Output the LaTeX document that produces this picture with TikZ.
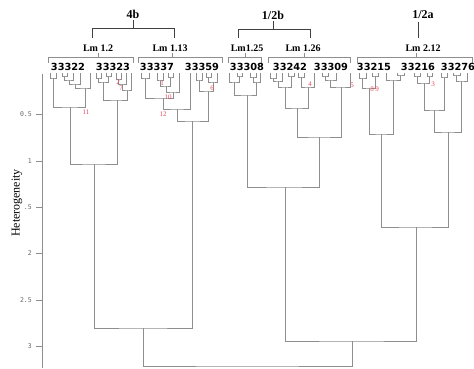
\documentclass[tikz,border=0pt]{standalone}
\usepackage{fontspec}
\setmainfont{Liberation Serif}
\newfontfamily\leaffont{DejaVu Sans}
\newfontfamily\tickfont{DejaVu Sans Mono}
\definecolor{linegray}{HTML}{8E8E8E}
\definecolor{redlab}{HTML}{E0485A}
\definecolor{tickgray}{HTML}{666666}
\newcommand\jn[5]{\coordinate (#1) at (#2,#3); \draw[br] (#4) |- (#1) -| (#5);}
\begin{document}
\begin{tikzpicture}[x=1pt,y=-1pt,
  br/.style={draw=linegray,line width=0.9pt},
  bk/.style={draw=black!75,line width=0.9pt},
  leaflab/.style={inner sep=0pt,font=\leaffont\bfseries\fontsize{9.8}{10}\selectfont},
  lmlab/.style={inner sep=0pt,font=\bfseries\fontsize{10}{11}\selectfont},
  grplab/.style={inner sep=0pt,font=\bfseries\fontsize{12}{13}\selectfont},
  rlab/.style={inner sep=0pt,text=redlab,font=\fontsize{7}{8}\selectfont},
  ticklab/.style={inner sep=0pt,anchor=east,text=tickgray,font=\tickfont\fontsize{6.5}{7}\selectfont}]
\useasboundingbox (0,0) rectangle (474,369);
% group labels
\node[grplab] (g4b) at (133,14) {4b};
\node[grplab] (g12b) at (273,15) {1/2b};
\node[grplab] (g12a) at (423,15) {1/2a};
\draw[bk] (133,20) -- (133,28);
\draw[bk] (92,38) -- (92,28) -- (174,28) -- (174,38);
\draw[bk] (273,21) -- (273,29);
\draw[bk] (238,38) -- (238,29) -- (310,29) -- (310,38);
\draw[bk] (418,22) -- (418,38);
% Lm labels
\node[lmlab] (lm12) at (98,48) {Lm 1.2};
\node[lmlab] (lm113) at (170,48) {Lm 1.13};
\node[lmlab] (lm125) at (247,48) {Lm1.25};
\node[lmlab] (lm126) at (303,48) {Lm 1.26};
\node[lmlab] (lm212) at (423,48) {Lm 2.12};
\foreach \a/\b/\c in {48/133/98, 138/222/172, 228/261/245, 268/350/304, 357/472/416}{
  \draw[br] (\a,63) -- (\a,57) -- (\b,57) -- (\b,63);
  \draw[br] (\c,53) -- (\c,57);
}
% leaf labels
\node[leaflab] (l1) at (68,67) {33322};
\node[leaflab] (l2) at (113,67) {33323};
\node[leaflab] (l3) at (157,67) {33337};
\node[leaflab] (l4) at (202,67) {33359};
\node[leaflab] (l5) at (247,67) {33308};
\node[leaflab] (l6) at (290,67) {33242};
\node[leaflab] (l7) at (331,67) {33309};
\node[leaflab] (l8) at (374,67) {33215};
\node[leaflab] (l9) at (418,67) {33216};
\node[leaflab] (l10) at (458,67) {33276};
% axis
\draw[br] (42,74) -- (42,368);
\foreach \v/\y/\t in {a/114/0.5, b/161/1, c/207/.5, d/253/2, e/300/2.5, f/346/3}{
  \draw[br] (36,\y) -- (42,\y);
  \node[ticklab] (t\v) at (32,\y) {\t};
}
\node[rotate=90,inner sep=0pt,font=\fontsize{12}{13}\selectfont] (ylab) at (17,203) {Heterogeneity};
% 33322
\jn{A1}{53}{78}{50,73}{56,73}
\jn{A2}{64.5}{76}{62,73}{67,73}
\jn{A3}{69}{80}{A2}{73,73}
\jn{A4}{75}{84}{A3}{80,73}
\jn{A5}{85}{88}{A4}{90,73}
\jn{A6}{70}{107}{A1}{A5}
% 33323
\jn{B1}{98.5}{78}{96,73}{101,73}
\jn{B2}{108.5}{76}{106,73}{111,73}
\jn{B3}{103}{82}{B1}{B2}
\jn{B4}{118.5}{79}{116,73}{121,73}
\jn{B5}{122}{84}{B4}{126,73}
\jn{B6}{127}{90}{B5}{131,73}
\jn{B7}{117}{100}{B3}{B6}
\jn{F}{94}{164}{A6}{B7}
% 33337 / 33359
\jn{C1}{145}{78}{141,73}{149,73}
\jn{C2}{160}{80}{157,73}{163,73}
\jn{C3}{170.5}{77}{168,73}{173,73}
\jn{C4}{166}{86}{C2}{C3}
\jn{C5}{173}{92}{C4}{179,73}
\jn{C6}{163}{98}{C1}{C5}
\jn{C7}{177}{109}{C6}{190,73}
\jn{D0}{199}{80}{196,73}{202,73}
\jn{D1}{208.5}{77}{206,73}{211,73}
\jn{D2}{213}{82}{D1}{217,73}
\jn{D3}{208}{91}{D0}{D2}
\jn{E}{192}{121}{C7}{D3}
\jn{G}{143}{328}{F}{E}
% 33308
\jn{H1}{239.5}{76}{237,73}{242,73}
\jn{H2}{234}{82}{229,73}{H1}
\jn{H3}{253}{77}{250,73}{256,73}
\jn{H4}{256.5}{82}{H3}{260,73}
\jn{H5}{247}{95}{H2}{H4}
% 33242 / 33309
\jn{I1}{273}{78}{270,73}{276,73}
\jn{I2}{278}{81}{I1}{282,73}
\jn{I3}{291}{76}{288,73}{294,73}
\jn{I4}{285}{87}{I2}{I3}
\jn{J1}{301}{77}{298,73}{304,73}
\jn{J2}{308}{87}{J1}{314,73}
\jn{K}{297}{108}{I4}{J2}
\jn{L1}{325}{76}{322,73}{328,73}
\jn{L2}{330.5}{80}{L1}{336,73}
\jn{L3}{341}{87}{L2}{350,73}
\jn{M}{319}{137}{K}{L3}
\jn{N}{285}{187}{H5}{M}
% Lm 2.12
\jn{O1}{362.5}{78}{359,73}{366,73}
\jn{O2}{375}{76}{372,73}{378,73}
\jn{O3}{369}{88}{O1}{O2}
\jn{P1}{400.5}{75}{397,73}{404,73}
\jn{P2}{393}{80}{386,73}{P1}
\jn{Q}{381}{134}{O3}{P2}
\jn{R1}{417}{76}{414,73}{420,73}
\jn{R2}{429.5}{76}{427,73}{432,73}
\jn{R3}{424}{83}{R1}{R2}
\jn{S1}{444}{77}{441,73}{447,73}
\jn{S2}{456.5}{75}{453,73}{460,73}
\jn{S3}{461}{81}{S2}{467,73}
\jn{T1}{434}{110}{R3}{S1}
\jn{T2}{448}{132}{T1}{S3}
\jn{U}{416}{227}{Q}{T2}
\jn{V}{352}{341}{N}{U}
\jn{Root}{247}{366}{G}{V}
% red numbers
\node[rlab] (r11) at (86,112) {11};
\node[rlab] (r2) at (118,82) {2};
\node[rlab] (r7) at (121,88) {7};
\node[rlab] (r1) at (162,83) {1};
\node[rlab] (r10) at (168,97) {10};
\node[rlab] (r12) at (163,114) {12};
\node[rlab] (r6) at (212,88) {6};
\node[rlab] (r4) at (310,84) {4};
\node[rlab] (r5) at (352,85) {5};
\node[rlab] (r8) at (372,89) {8};
\node[rlab] (r9) at (377,89) {9};
\node[rlab] (r3) at (433,84) {3};
\end{tikzpicture}
\end{document}
